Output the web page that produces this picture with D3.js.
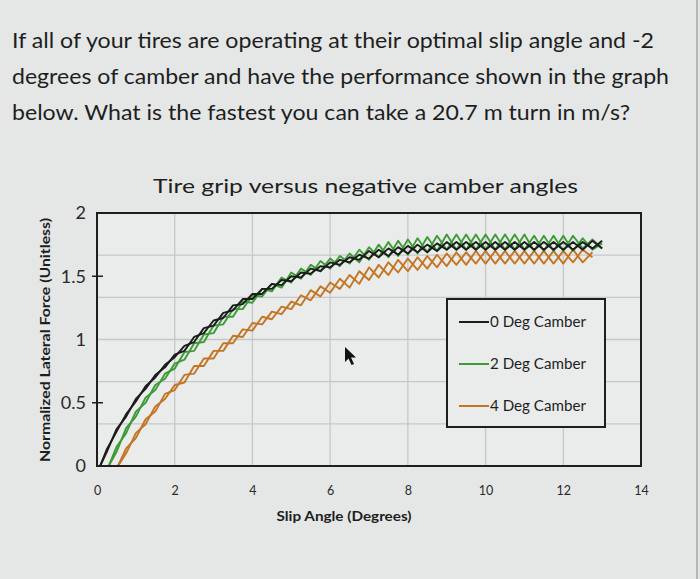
<!DOCTYPE html>
<html>
<head>
<meta charset="utf-8">
<script src="https://cdn.jsdelivr.net/npm/d3@7"></script>
<style>
  body { margin: 0; background: #e4e7e6; }
  svg { display: block; font-family: Lato, "Open Sans", sans-serif; }
</style>
</head>
<body>
<svg id="chart" width="700" height="579"></svg>
<script>
const questionLines = [
  "If all of your tires are operating at their optimal slip angle and -2",
  "degrees of camber and have the performance shown in the graph",
  "below. What is the fastest you can take a 20.7 m turn in m/s?"
];
const chartTitle = "Tire grip versus negative camber angles";
const xTitle = "Slip Angle (Degrees)";
const yTitle = "Normalized Lateral Force (Unitless)";
const seriesNames = ["0 Deg Camber", "2 Deg Camber", "4 Deg Camber"];
const xTicks = [0, 2, 4, 6, 8, 10, 12, 14];
const yTicks = [0, 0.5, 1, 1.5, 2];
const xGrid = [2, 4, 6, 8, 10, 12];
const yGrid = [0.333, 0.667, 1, 1.333, 1.667];

// slip angle where each curve leaves zero
const zeroAngle = [0.08, 0.3, 0.54];

const slipAngle = [0.25, 0.5, 0.75, 1, 1.25, 1.5, 1.75, 2, 2.25, 2.5, 2.75, 3, 3.25, 3.5, 3.75, 4,
  4.25, 4.5, 4.75, 5, 5.25, 5.5, 5.75, 6, 6.25, 6.5, 6.75, 7, 7.25, 7.5, 7.75, 8,
  8.25, 8.5, 8.75, 9, 9.25, 9.5, 9.75, 10, 10.25, 10.5, 10.75, 11, 11.25, 11.5, 11.75, 12,
  12.25, 12.5, 12.75, 13];

// each camber setting was swept twice, so two traces per series
const camber0A = [.13,.27,.41,.51,.63,.70,.80,.86,.95,.98,1.09,1.11,1.21,1.23,1.32,1.32,
  1.40,1.40,1.47,1.46,1.53,1.52,1.58,1.57,1.63,1.61,1.67,1.64,1.71,1.66,1.73,1.68,
  1.75,1.69,1.76,1.71,1.77,1.71,1.77,1.71,1.77,1.71,1.77,1.71,1.77,1.71,1.77,1.71,
  1.77,1.71,1.78,1.72];
const camber0B = [.11,.29,.39,.53,.61,.72,.78,.88,.91,1.02,1.05,1.15,1.17,1.27,1.28,1.36,
  1.36,1.44,1.43,1.50,1.49,1.56,1.54,1.61,1.59,1.65,1.63,1.70,1.65,1.72,1.67,1.74,
  1.69,1.75,1.70,1.77,1.71,1.77,1.71,1.77,1.71,1.77,1.71,1.77,1.71,1.77,1.71,1.77,
  1.71,1.77,1.72,1.78];
const camber2A = [null,.11,.30,.39,.54,.60,.73,.77,.90,.91,1.04,1.05,1.18,1.18,1.30,1.29,
  1.40,1.38,1.49,1.45,1.56,1.51,1.62,1.56,1.66,1.60,1.71,1.63,1.75,1.65,1.78,1.67,
  1.80,1.69,1.82,1.71,1.83,1.71,1.83,1.71,1.83,1.71,1.83,1.71,1.82,1.70,1.82,1.70,
  1.82,1.72,1.79,1.72];
const camber2B = [null,.15,.26,.43,.50,.64,.69,.81,.84,.97,.98,1.11,1.12,1.24,1.24,1.35,
  1.34,1.44,1.41,1.53,1.48,1.59,1.54,1.64,1.58,1.68,1.61,1.73,1.65,1.77,1.66,1.79,
  1.68,1.81,1.70,1.83,1.71,1.83,1.71,1.83,1.71,1.83,1.71,1.83,1.70,1.82,1.70,1.82,
  1.70,1.80,1.71,1.76];
const camber4A = [null,null,.14,.22,.37,.43,.57,.60,.72,.73,.85,.85,.97,.97,1.08,1.07,
  1.18,1.16,1.26,1.24,1.35,1.31,1.42,1.37,1.48,1.41,1.54,1.47,1.59,1.51,1.63,1.54,
  1.65,1.56,1.67,1.58,1.69,1.59,1.70,1.60,1.70,1.60,1.70,1.60,1.70,1.60,1.70,1.60,
  1.71,1.61,1.69,null];
const camber4B = [null,null,.10,.26,.33,.47,.53,.64,.66,.79,.79,.91,.91,1.03,1.02,1.13,
  1.12,1.22,1.20,1.30,1.27,1.39,1.34,1.45,1.40,1.51,1.44,1.57,1.49,1.61,1.53,1.64,
  1.55,1.66,1.57,1.68,1.59,1.69,1.60,1.70,1.60,1.70,1.60,1.70,1.60,1.70,1.60,1.70,
  1.61,1.71,1.65,null];

const colors = ["#1c1c1c", "#3d9b36", "#c47523"];
const ink = "#1e1e1e";

const svg = d3.select("#chart");
const x = d3.scaleLinear().domain([0, 14]).range([97, 641]);
const y = d3.scaleLinear().domain([0, 2]).range([466, 213]);

// question text
svg.selectAll(".q").data(questionLines).enter().append("text")
  .attr("x", 12).attr("y", (d, i) => 48 + i * 36)
  .attr("font-size", 21).attr("fill", ink)
  .attr("textLength", (d, i) => [642, 657, 618][i])
  .attr("lengthAdjust", "spacingAndGlyphs")
  .text(d => d);

svg.append("text")
  .attr("x", 153).attr("y", 193)
  .attr("font-size", 20).attr("fill", ink)
  .attr("textLength", 425).attr("lengthAdjust", "spacingAndGlyphs")
  .text(chartTitle);

// plot area
svg.append("rect")
  .attr("x", x(0)).attr("y", y(2))
  .attr("width", x(14) - x(0)).attr("height", y(0) - y(2))
  .attr("fill", "#eaeceb");

svg.selectAll(".vgrid").data(xGrid).enter().append("line")
  .attr("x1", d => x(d)).attr("x2", d => x(d))
  .attr("y1", y(0)).attr("y2", y(2))
  .attr("stroke", "#c6c8c7").attr("stroke-width", 1.3);
svg.selectAll(".hgrid").data(yGrid).enter().append("line")
  .attr("x1", x(0)).attr("x2", x(14))
  .attr("y1", d => y(d)).attr("y2", d => y(d))
  .attr("stroke", "#c6c8c7").attr("stroke-width", 1.3);

// axes labels
const yAxis = svg.append("g").attr("transform", `translate(${x(0)},0)`)
  .call(d3.axisLeft(y).tickValues(yTicks).tickFormat(d3.format("")).tickSize(0).tickPadding(11));
yAxis.select(".domain").remove();
yAxis.selectAll("text").attr("font-size", 18).attr("font-family", "Lato, sans-serif").attr("fill", "#2a2a2a");

svg.selectAll(".ytick").data(yTicks.filter(d => d % 1 !== 0)).enter().append("line")
  .attr("x1", x(0) - 5).attr("x2", x(0) + 6)
  .attr("y1", d => y(d)).attr("y2", d => y(d))
  .attr("stroke", ink).attr("stroke-width", 1.5);

const xAxis = svg.append("g").attr("transform", `translate(0,${y(0)})`)
  .call(d3.axisBottom(x).tickValues(xTicks).tickSize(0).tickPadding(20));
xAxis.select(".domain").remove();
xAxis.selectAll("text").attr("font-size", 12.5).attr("font-family", "Lato, sans-serif").attr("fill", "#2a2a2a");

svg.append("text")
  .attr("x", 344).attr("y", 521).attr("text-anchor", "middle")
  .attr("font-size", 13).attr("font-weight", "bold").attr("fill", ink)
  .attr("textLength", 135).attr("lengthAdjust", "spacingAndGlyphs")
  .text(xTitle);

svg.append("text")
  .attr("transform", "translate(50,340) rotate(-90)")
  .attr("text-anchor", "middle")
  .attr("font-size", 12.5).attr("font-weight", "bold").attr("fill", ink)
  .attr("textLength", 244).attr("lengthAdjust", "spacingAndGlyphs")
  .text(yTitle);

// curves
function points(values, start) {
  const pts = [[start, 0]];
  slipAngle.forEach((a, i) => {
    if (values[i] != null) pts.push([a, values[i]]);
  });
  return pts;
}
const line = d3.line().x(d => x(d[0])).y(d => y(d[1]));
const traces = [
  [camber4A, 2], [camber4B, 2],
  [camber2A, 1], [camber2B, 1],
  [camber0A, 0], [camber0B, 0]
];
svg.selectAll(".trace").data(traces).enter().append("path")
  .attr("d", d => line(points(d[0], zeroAngle[d[1]])))
  .attr("fill", "none")
  .attr("stroke", d => colors[d[1]])
  .attr("stroke-width", 1.9)
  .attr("stroke-linejoin", "round");

// frame
svg.append("rect")
  .attr("x", x(0)).attr("y", y(2))
  .attr("width", x(14) - x(0)).attr("height", y(0) - y(2))
  .attr("fill", "none").attr("stroke", ink).attr("stroke-width", 2);

// legend
const legend = svg.append("g");
legend.append("rect")
  .attr("x", 447).attr("y", 299).attr("width", 158).attr("height", 128)
  .attr("fill", "#eaeceb").attr("stroke", ink).attr("stroke-width", 2);
const items = legend.selectAll(".item").data(seriesNames).enter().append("g")
  .attr("transform", (d, i) => `translate(459,${322 + i * 42})`);
items.append("line")
  .attr("x1", 0).attr("x2", 30)
  .attr("stroke", (d, i) => colors[i]).attr("stroke-width", 2);
items.append("text")
  .attr("x", 31).attr("dy", "0.35em")
  .attr("font-size", 14.5).attr("fill", ink)
  .attr("textLength", 96).attr("lengthAdjust", "spacingAndGlyphs")
  .text(d => d);

// mouse pointer and screen edge from the photo
svg.append("path")
  .attr("transform", "translate(345,347)")
  .attr("d", "M0,0 L0,15 L3.5,11.5 L6.5,18 L9,17 L6,10.5 L11,10.5 Z")
  .attr("fill", "#111");
svg.append("line")
  .attr("x1", 697).attr("x2", 697).attr("y1", 0).attr("y2", 579)
  .attr("stroke", "#a3a6a5").attr("stroke-width", 1.5);
</script>
</body>
</html>
